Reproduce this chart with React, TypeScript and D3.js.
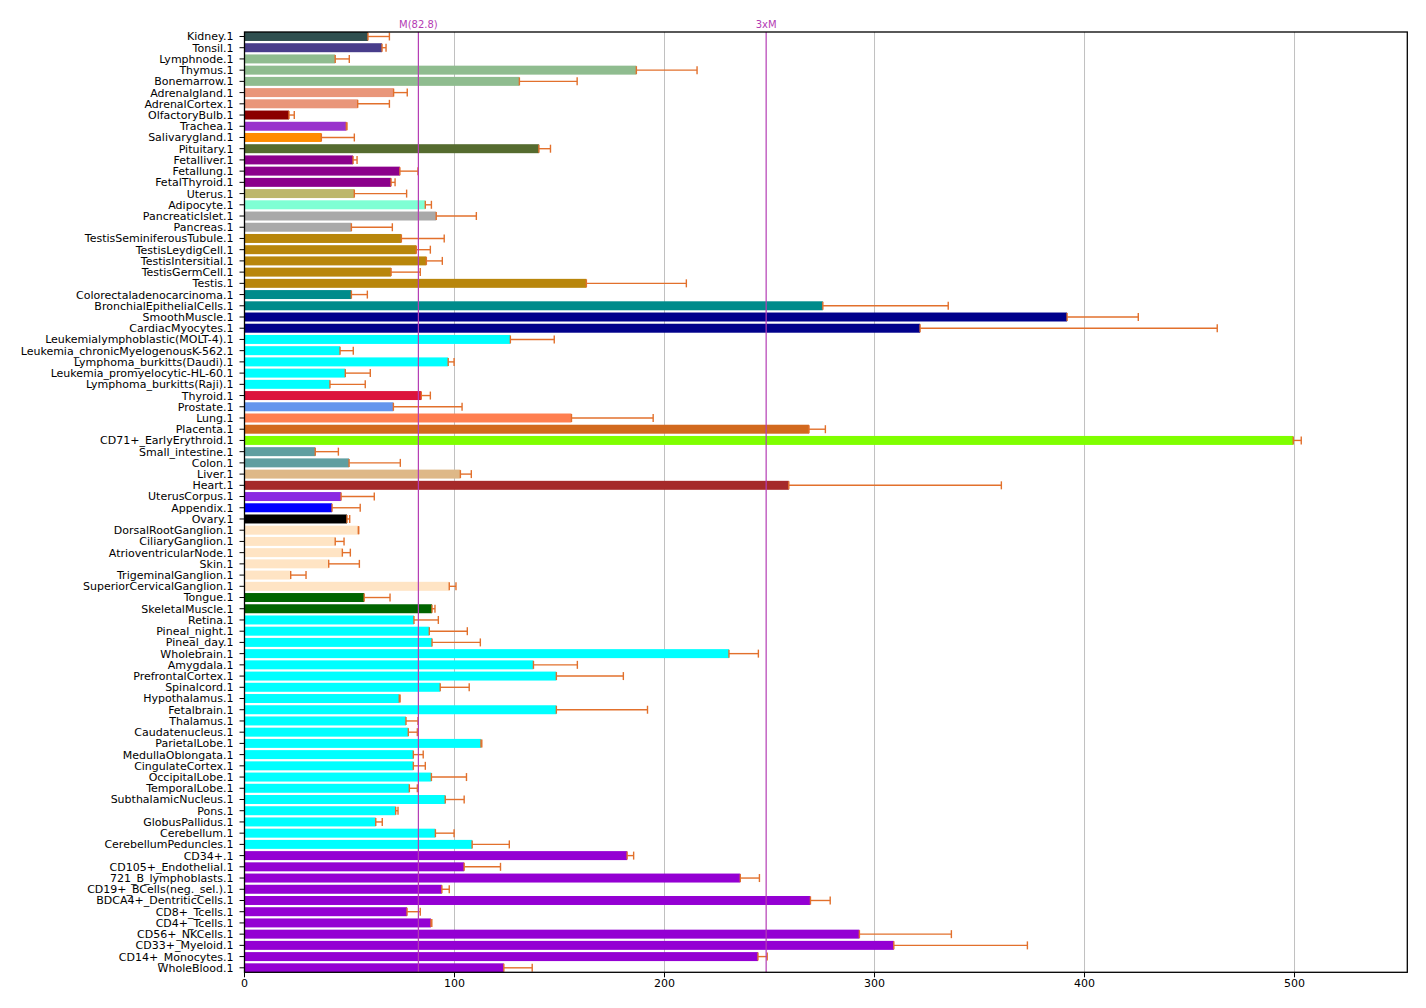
import React from "react";
import * as d3 from "d3";

const labels: string[] = [
  "Kidney.1", "Tonsil.1", "Lymphnode.1", "Thymus.1", "Bonemarrow.1", "Adrenalgland.1", "AdrenalCortex.1",
  "OlfactoryBulb.1", "Trachea.1", "Salivarygland.1", "Pituitary.1", "Fetalliver.1", "Fetallung.1",
  "FetalThyroid.1", "Uterus.1", "Adipocyte.1", "PancreaticIslet.1", "Pancreas.1", "TestisSeminiferousTubule.1",
  "TestisLeydigCell.1", "TestisIntersitial.1", "TestisGermCell.1", "Testis.1", "Colorectaladenocarcinoma.1",
  "BronchialEpithelialCells.1", "SmoothMuscle.1", "CardiacMyocytes.1", "Leukemialymphoblastic(MOLT-4).1",
  "Leukemia_chronicMyelogenousK-562.1", "Lymphoma_burkitts(Daudi).1", "Leukemia_promyelocytic-HL-60.1",
  "Lymphoma_burkitts(Raji).1", "Thyroid.1", "Prostate.1", "Lung.1", "Placenta.1", "CD71+_EarlyErythroid.1",
  "Small_intestine.1", "Colon.1", "Liver.1", "Heart.1", "UterusCorpus.1", "Appendix.1", "Ovary.1",
  "DorsalRootGanglion.1", "CiliaryGanglion.1", "AtrioventricularNode.1", "Skin.1", "TrigeminalGanglion.1",
  "SuperiorCervicalGanglion.1", "Tongue.1", "SkeletalMuscle.1", "Retina.1", "Pineal_night.1", "Pineal_day.1",
  "Wholebrain.1", "Amygdala.1", "PrefrontalCortex.1", "Spinalcord.1", "Hypothalamus.1", "Fetalbrain.1",
  "Thalamus.1", "Caudatenucleus.1", "ParietalLobe.1", "MedullaOblongata.1", "CingulateCortex.1",
  "OccipitalLobe.1", "TemporalLobe.1", "SubthalamicNucleus.1", "Pons.1", "GlobusPallidus.1", "Cerebellum.1",
  "CerebellumPeduncles.1", "CD34+.1", "CD105+_Endothelial.1", "721_B_lymphoblasts.1",
  "CD19+_BCells(neg._sel.).1", "BDCA4+_DentriticCells.1", "CD8+_Tcells.1", "CD4+_Tcells.1",
  "CD56+_NKCells.1", "CD33+_Myeloid.1", "CD14+_Monocytes.1", "WholeBlood.1",
];

const values: number[] = [
  58.8, 65.5, 43.2, 186.6, 130.9, 71.0, 53.9, 21.2, 48.5, 36.6, 140.2, 51.7, 74.0, 69.8, 52.3, 86.1, 91.3,
  50.9, 74.7, 81.8, 86.6, 69.8, 162.8, 50.9, 275.4, 391.7, 321.7, 126.6, 45.5, 97.0, 48.0, 40.7, 84.2, 70.9,
  155.7, 268.8, 499.4, 33.7, 49.8, 102.8, 259.2, 46.0, 41.7, 48.8, 54.2, 43.2, 46.6, 40.1, 22.0, 97.5, 57.0,
  89.3, 80.7, 88.0, 89.3, 230.7, 137.6, 148.5, 93.2, 73.7, 148.5, 76.9, 78.0, 112.6, 80.4, 80.4, 89.0, 78.5,
  95.6, 72.0, 62.5, 90.9, 108.4, 182.2, 104.6, 236.1, 94.0, 269.5, 77.4, 88.8, 292.8, 309.2, 244.5, 123.5,
];

const errors: number[] = [
  10.2, 1.9, 6.7, 28.9, 27.5, 6.5, 15.1, 2.5, 0.3, 15.7, 5.5, 1.9, 8.6, 1.9, 24.9, 2.9, 19.1, 19.5, 20.4,
  6.7, 7.6, 13.9, 47.6, 7.6, 59.7, 33.9, 141.5, 20.9, 6.3, 2.8, 11.9, 16.8, 4.3, 32.7, 38.9, 7.8, 3.8, 11.0,
  24.4, 5.2, 101.2, 15.8, 13.4, 1.3, 0.2, 4.2, 3.8, 14.6, 7.3, 3.2, 12.3, 1.4, 11.6, 18.1, 23.0, 14.0, 20.9,
  31.9, 13.8, 0.4, 43.4, 5.7, 4.3, 0.4, 4.7, 5.7, 16.7, 3.8, 9.0, 1.1, 3.1, 8.9, 17.7, 3.1, 17.3, 9.1, 3.5,
  9.4, 6.3, 0.4, 43.8, 63.6, 4.4, 13.5,
];

const colors: string[] = [
  "#2F4F4F", "#483D8B", "#8FBC8F", "#8FBC8F", "#8FBC8F", "#E9967A", "#E9967A", "#8B0000", "#9932CC",
  "#FF8C00", "#556B2F", "#8B008B", "#8B008B", "#8B008B", "#BDB76B", "#7FFFD4", "#A9A9A9", "#A9A9A9",
  "#B8860B", "#B8860B", "#B8860B", "#B8860B", "#B8860B", "#008B8B", "#008B8B", "#00008B", "#00008B",
  "#00FFFF", "#00FFFF", "#00FFFF", "#00FFFF", "#00FFFF", "#DC143C", "#6495ED", "#FF7F50", "#D2691E",
  "#7FFF00", "#5F9EA0", "#5F9EA0", "#DEB887", "#A52A2A", "#8A2BE2", "#0000FF", "#000000", "#FFE4C4",
  "#FFE4C4", "#FFE4C4", "#FFE4C4", "#FFE4C4", "#FFE4C4", "#006400", "#006400", "#00FFFF", "#00FFFF",
  "#00FFFF", "#00FFFF", "#00FFFF", "#00FFFF", "#00FFFF", "#00FFFF", "#00FFFF", "#00FFFF", "#00FFFF",
  "#00FFFF", "#00FFFF", "#00FFFF", "#00FFFF", "#00FFFF", "#00FFFF", "#00FFFF", "#00FFFF", "#00FFFF",
  "#00FFFF", "#9400D3", "#9400D3", "#9400D3", "#9400D3", "#9400D3", "#9400D3", "#9400D3", "#9400D3",
  "#9400D3", "#9400D3", "#9400D3",
];

const xTicks: number[] = [0, 100, 200, 300, 400, 500];
const median = 82.8;
const refLines: { value: number; label: string }[] = [
  { value: median, label: `M(${median})` },
  { value: median * 3, label: "3xM" },
];

const W = 1426;
const H = 1008;
const left = 244.5;
const right = 1407.3;
const top = 32;
const bottom = 972.3;
const FONT = "DejaVu Sans, sans-serif";
const ERR = "#e2702c";
const REF = "#b43cb4";

export default function App() {
  const x = d3.scaleLinear().domain([0, 553.7]).range([left, right]);
  const y = d3.scaleLinear().domain([-0.4, labels.length - 0.6]).range([top, bottom]);
  const barH = y(0.8) - y(0);

  return (
    <svg
      width={W}
      height={H}
      style={{ position: "absolute", left: 0, top: 0, display: "block", background: "#fff" }}
      fontFamily={FONT}
    >
      {/* grid */}
      {xTicks.slice(1).map((t) => (
        <line key={"g" + t} x1={x(t)} x2={x(t)} y1={top} y2={bottom} stroke="#c0c0c0" strokeWidth={1} />
      ))}
      {/* bars */}
      {values.map((v, i) => (
        <rect key={"b" + i} x={x(0)} y={y(i) - barH / 2} width={x(v) - x(0)} height={barH} fill={colors[i]} />
      ))}
      {/* error bars */}
      {values.map((v, i) => {
        const x1 = x(v);
        const x2 = x(v + errors[i]);
        const cy = y(i);
        return (
          <g key={"e" + i} stroke={ERR} strokeWidth={1.4}>
            <line x1={x1} x2={x2} y1={cy} y2={cy} />
            <line x1={x1} x2={x1} y1={cy - 4} y2={cy + 4} />
            <line x1={x2} x2={x2} y1={cy - 4} y2={cy + 4} />
          </g>
        );
      })}
      {/* reference lines */}
      {refLines.map((r) => (
        <g key={r.label}>
          <line x1={x(r.value)} x2={x(r.value)} y1={top} y2={bottom} stroke={REF} strokeWidth={1.2} />
          <text x={x(r.value)} y={28} textAnchor="middle" fontSize={10} fill={REF}>
            {r.label}
          </text>
        </g>
      ))}
      {/* frame */}
      <rect x={left} y={top} width={right - left} height={bottom - top} fill="none" stroke="#000" strokeWidth={1.3} />
      {/* y ticks */}
      {labels.map((l, i) => (
        <g key={"y" + i}>
          <line x1={left - 5} x2={left} y1={y(i)} y2={y(i)} stroke="#000" strokeWidth={1} />
          <text x={left - 11} y={y(i)} dy="0.36em" textAnchor="end" fontSize={11} fill="#000">
            {l}
          </text>
        </g>
      ))}
      {/* x ticks */}
      {xTicks.map((t) => (
        <g key={"x" + t}>
          <line x1={x(t)} x2={x(t)} y1={bottom} y2={bottom + 5} stroke="#000" strokeWidth={1} />
          <text x={x(t)} y={987} textAnchor="middle" fontSize={11} fill="#000">
            {t}
          </text>
        </g>
      ))}
    </svg>
  );
}
